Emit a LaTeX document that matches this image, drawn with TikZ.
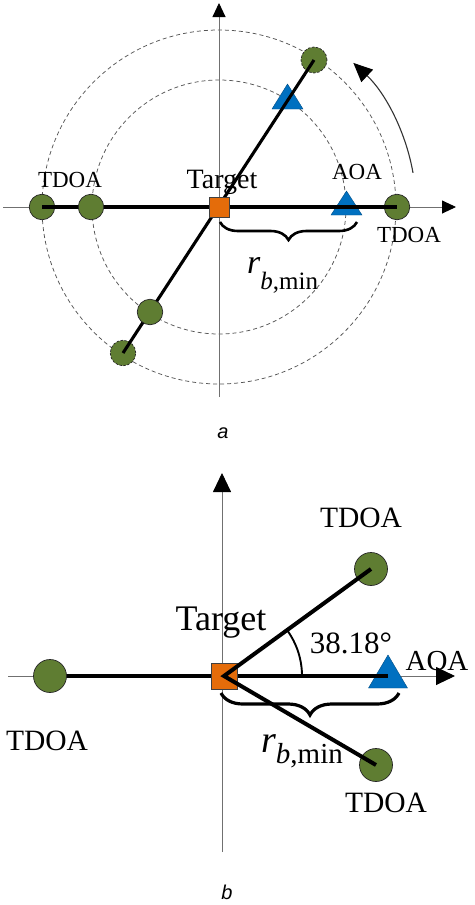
\documentclass[tikz,border=0pt]{standalone}
\usepackage{fontspec}
\setmainfont{Liberation Serif}
\newfontfamily\lsans{Liberation Sans}
\usetikzlibrary{arrows.meta,decorations.pathreplacing,calc}
\definecolor{sgreen}{HTML}{5F7D32}
\definecolor{sorange}{HTML}{E46C0A}
\definecolor{sblue}{HTML}{0070C0}
\definecolor{axgray}{HTML}{707070}
\definecolor{ringgray}{HTML}{555555}
\begin{document}
\begin{tikzpicture}[x=1pt,y=-1pt,
  axisline/.style={draw=axgray, line width=0.9pt},
  axtipA/.style={-{Triangle[length=14pt,width=13pt,color=black]}},
  axtipB/.style={-{Triangle[length=19pt,width=18pt,color=black]}},
  ringline/.style={draw=ringgray, line width=0.75pt, dash pattern=on 4pt off 3pt},
  station/.style={circle, fill=sgreen, draw=black!85, line width=0.7pt, minimum size=#1, inner sep=0pt},
  station/.default=25,
  dashedge/.style={dash pattern=on 2.5pt off 1.5pt},
  aoa/.style={fill=sblue, draw=sblue!70!black, line width=0.4pt},
  targetbox/.style={rectangle, fill=sorange, draw=black!75, line width=0.6pt, minimum size=#1, inner sep=0pt},
  thickA/.style={draw=black, line width=3.1pt},
  thickB/.style={draw=black, line width=4pt},
  lbl/.style={inner sep=0pt, anchor=base, text=black},
  bracestyle/.style={decorate, decoration={brace, amplitude=#1, mirror}},
]
\useasboundingbox (0,0) rectangle (474,905);

% ================= part a =================
\coordinate (O1) at (219,207);
\coordinate (ax1t) at (219,3);
\coordinate (ax1b) at (219,397);
\coordinate (ax1l) at (3,207);
\coordinate (ax1r) at (456,207);
\draw[ringline] (O1) circle[radius=177];
\draw[ringline] (O1) circle[radius=127];
\draw[axisline, axtipA] (ax1b) -- (ax1t);
\draw[axisline, axtipA] (ax1l) -- (ax1r);

\node[station=25.5] (T1L) at (42,207) {};
\node[station=25.5] (T1R) at (397,207) {};
\node[station=26, dashedge] (T1U) at (314,60) {};
\node[station=25.5, dashedge] (T1D) at (123,353) {};

\coordinate (A1U) at (287.5,101);
\coordinate (A1R) at (346.5,207);
\fill[aoa] ([shift={(0,-17)}]A1U) -- ([shift={(15.5,8)}]A1U) -- ([shift={(-15.5,8)}]A1U) -- cycle;
\fill[aoa] ([shift={(0,-16)}]A1R) -- ([shift={(15.5,8)}]A1R) -- ([shift={(-15.5,8)}]A1R) -- cycle;

\draw[thickA] (T1L.center) -- (T1R.center);
\draw[thickA] (T1D.center) -- (T1U.center);

\node[station=25.5] (I1L) at (91,207) {};
\node[station=25.5] (I1D) at (150,312) {};
\node[targetbox=20] (S1) at (O1) {};

% rotation arrow
\coordinate (rotS) at (413,172.8);
\draw[draw=black!80, line width=1.1pt, -{Triangle[length=19pt,width=17pt,color=black]}] (rotS) arc[start angle=-10, end angle=-47, radius=197];

% brace a
\coordinate (br1a) at (220,222);
\coordinate (br1b) at (357,222);
\draw[bracestyle=18pt, line width=2.6pt] (br1a) -- (br1b);

\node[lbl, font=\fontsize{23}{23}\selectfont] (tx1) at (70,187) {TDOA};
\node[lbl, font=\fontsize{28}{28}\selectfont] (tg1) at (222,188) {Target};
\node[lbl, font=\fontsize{23}{23}\selectfont] (ao1) at (357,179) {AOA};
\node[lbl, font=\fontsize{23}{23}\selectfont] (tx2) at (409,242) {TDOA};
\node[inner sep=0pt, anchor=base west] (rb1) at (247,273)
  {{\fontsize{34}{34}\selectfont\itshape r}\raisebox{-16pt}{\fontsize{25}{25}\selectfont\itshape b\upshape,min}};
\node[lbl, font=\lsans\itshape\fontsize{20}{20}\selectfont] (capa) at (223,438) {a};

% ================= part b =================
\coordinate (O2) at (224,676);
\coordinate (ax2t) at (222,473);
\coordinate (ax2b) at (222,852);
\coordinate (ax2l) at (8,676);
\coordinate (ax2r) at (455,676);

\node[lbl, font=\fontsize{29}{29}\selectfont] (ao2) at (437,670) {AOA};
\draw[axisline, axtipB] (ax2b) -- (ax2t);
\draw[axisline, axtipB] (ax2l) -- (ax2r);

\node[station=33] (T2U) at (371,569) {};
\node[station=33] (T2D) at (376,765) {};
\coordinate (A2) at (388,676);
\fill[aoa] ([shift={(0,-21)}]A2) -- ([shift={(19.5,12)}]A2) -- ([shift={(-19.5,12)}]A2) -- cycle;

\node[inner sep=0pt, minimum size=1pt] (T2Lc) at (50,676) {};
\draw[thickB] (T2Lc.center) -- (A2);
\node[station=33] (T2L) at (50,676) {};
\node[targetbox=26] (S2) at (O2) {};
\draw[thickB, line join=miter] (T2U.center) -- (O2) -- (T2D.center);

% angle arc
\coordinate (angS) at (302,676);
\draw[draw=black, line width=1.9pt] (angS) arc[start angle=0, end angle=-36, radius=78];

% brace b
\coordinate (br2a) at (221,693);
\coordinate (br2b) at (399,693);
\draw[bracestyle=22pt, line width=3.2pt] (br2a) -- (br2b);

\node[lbl, font=\fontsize{29.5}{29.5}\selectfont] (tx3) at (361,527) {TDOA};
\node[lbl, font=\fontsize{36}{36}\selectfont] (tg2) at (221,630) {Target};
\node[lbl, font=\fontsize{31}{31}\selectfont] (ang) at (351,653) {38.18°};
\node[lbl, font=\fontsize{29.5}{29.5}\selectfont] (tx4) at (47,750) {TDOA};
\node[lbl, font=\fontsize{29.5}{29.5}\selectfont] (tx5) at (386,812) {TDOA};
\node[inner sep=0pt, anchor=base west] (rb2) at (261,752)
  {{\fontsize{38}{38}\selectfont\itshape r}\raisebox{-11pt}{\fontsize{29}{29}\selectfont\itshape b\upshape,min}};
\node[lbl, font=\lsans\itshape\fontsize{20}{20}\selectfont] (capb) at (227,899) {b};
\end{tikzpicture}
\end{document}
